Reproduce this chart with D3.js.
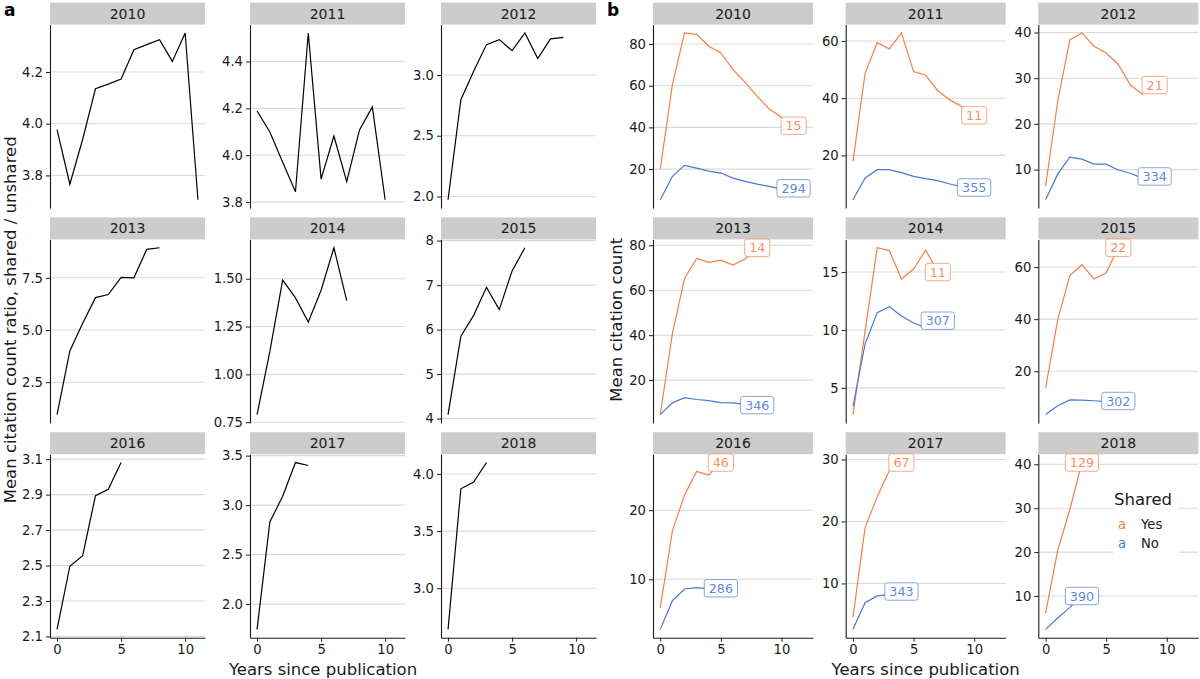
<!DOCTYPE html>
<html>
<head>
<meta charset="utf-8">
<script src="https://cdn.jsdelivr.net/npm/d3@7/dist/d3.min.js"></script>
<style>
body { margin: 0; background: #fff; }
text { font-family: "DejaVu Sans", sans-serif; }
</style>
</head>
<body>
<script>

// publication years, one facet each
var years = [2010, 2011, 2012, 2013, 2014, 2015, 2016, 2017, 2018]

// panel a: mean citation ratio shared / unshared, by years since publication (0, 1, 2 ...)
var ratioSeries = [
  [3.977, 3.766, 3.94, 4.135, 4.153, 4.173, 4.286, 4.306, 4.325, 4.241, 4.351, 3.706],
  [4.189, 4.099, 3.97, 3.844, 4.522, 3.898, 4.082, 3.887, 4.108, 4.206, 3.81],
  [1.973, 2.797, 3.03, 3.25, 3.291, 3.2, 3.346, 3.135, 3.297, 3.31],
  [0.95, 4.0, 5.32, 6.55, 6.70, 7.52, 7.5, 8.86, 8.94],
  [0.79, 1.12, 1.493, 1.40, 1.274, 1.44, 1.662, 1.385],
  [4.09, 5.85, 6.32, 6.95, 6.45, 7.32, 7.84],
  [2.14, 2.496, 2.556, 2.894, 2.93, 3.081],
  [1.745, 2.83, 3.09, 3.43, 3.40],
  [2.64, 3.87, 3.93, 4.1]
]

// panel b: mean citation count, shared = Yes
var yesSeries = [
  [20.0, 60.5, 85.3, 84.6, 78.9, 75.7, 67.7, 61.6, 54.9, 48.8, 44.9, 40.8],
  [17.9, 48.7, 59.4, 57.2, 62.8, 49.3, 48.0, 42.6, 39.4, 37.0, 34.0],
  [6.4, 24.9, 38.4, 39.9, 37.0, 35.5, 33.0, 28.5, 26.5, 28.5],
  [4.7, 40.7, 65.2, 74.1, 72.4, 73.4, 71.2, 74.0, 78.9],
  [2.7, 9.9, 17.1, 16.85, 14.4, 15.26, 16.9, 15.0],
  [13.5, 39.7, 56.7, 60.9, 55.4, 57.8, 67.4],
  [5.9, 17.0, 22.2, 25.6, 25.1, 26.9],
  [4.6, 19.0, 24.0, 28.2, 29.5],
  [6.1, 20.4, 29.7, 40.4]
]

// panel b: mean citation count, shared = No
var noSeries = [
  [5.3, 16.5, 21.8, 20.5, 19.0, 18.1, 15.7, 14.1, 12.8, 11.7, 10.4, 10.8],
  [4.5, 12.1, 15.0, 15.0, 14.0, 12.7, 11.9, 11.2, 10.0, 9.0, 8.8],
  [3.4, 9.0, 12.7, 12.3, 11.2, 11.2, 9.9, 9.2, 8.1, 8.5],
  [4.7, 9.9, 12.2, 11.4, 10.9, 10.0, 9.9, 9.2, 8.9],
  [3.4, 8.8, 11.5, 12.0, 11.2, 10.6, 10.2, 10.8],
  [3.4, 6.8, 9.0, 8.9, 8.7, 8.4, 8.6],
  [2.75, 6.9, 8.6, 8.8, 8.6, 8.7],
  [2.6, 6.9, 8.0, 8.2, 8.7],
  [2.4, 5.0, 7.4, 10.0]
]

// number of papers, shown in the end labels
var yesN = [15, 11, 21, 14, 11, 22, 46, 67, 129]
var noN  = [294, 355, 334, 346, 307, 302, 286, 343, 390]

var ratioTicks = [
  [3.8, 4.0, 4.2], [3.8, 4.0, 4.2, 4.4], [2.0, 2.5, 3.0],
  [2.5, 5.0, 7.5], [0.75, 1.00, 1.25, 1.50], [4, 5, 6, 7, 8],
  [2.1, 2.3, 2.5, 2.7, 2.9, 3.1], [2.0, 2.5, 3.0, 3.5], [3.0, 3.5, 4.0]
]
var countTicks = [
  [20, 40, 60, 80], [20, 40, 60], [10, 20, 30, 40],
  [20, 40, 60, 80], [5, 10, 15], [20, 40, 60],
  [10, 20], [10, 20, 30], [10, 20, 30, 40]
]
var xTicks = [0, 5, 10]

var groups = ["Yes", "No"]
var color = d3.scaleOrdinal().domain(groups).range(["#f37e48", "#4878d6"])

// layout
var plotTop = [24.6, 239.4, 454.2], plotH = 183.5, stripH = 22
var aLeft = [50, 250, 441], aW = 155
var bLeft = [653, 845.7, 1038.3], bW = 160
var ink = "#1a1a1a"

var svg = d3.select("body").append("svg").attr("width", 1200).attr("height", 679)

function decimals(ticks) {
  return d3.max(ticks, function(t) { return (String(t).split(".")[1] || "").length })
}

function expand(vals) {
  var lo = d3.min(vals), hi = d3.max(vals), r = hi - lo
  return [lo - 0.05 * r, hi + 0.05 * r]
}

function panel(i, left, w, xmax, allVals, ticks) {
  var row = Math.floor(i / 3)
  var g = svg.append("g").attr("transform", "translate(" + left + "," + plotTop[row] + ")")

  g.append("rect").attr("x", 0).attr("y", -stripH).attr("width", w).attr("height", stripH)
    .attr("fill", "#cccccc")
  g.append("text").attr("x", w / 2).attr("y", -stripH / 2).attr("dy", "0.36em")
    .attr("text-anchor", "middle").attr("font-size", 14).attr("fill", ink).text(years[i])

  var x = d3.scaleLinear().domain([-0.05 * xmax, xmax * 1.05]).range([0, w])
  var y = d3.scaleLinear().domain(expand(allVals)).range([plotH, 0])

  g.selectAll(".grid").data(ticks).enter().append("line")
    .attr("x1", 0).attr("x2", w)
    .attr("y1", function(d) { return y(d) }).attr("y2", function(d) { return y(d) })
    .attr("stroke", "#d9d9d9").attr("stroke-width", 1.1)

  var dec = decimals(ticks)
  var ya = g.append("g").call(d3.axisLeft(y).tickValues(ticks).tickSize(4).tickSizeOuter(0).tickPadding(3)
    .tickFormat(d3.format("." + dec + "f")))
  ya.selectAll("text").attr("font-size", 13.2).attr("fill", ink).attr("font-family", "DejaVu Sans")
  ya.selectAll("line").attr("stroke", ink)
  ya.select(".domain").attr("stroke", ink).attr("stroke-width", 1.1)

  if (row == 2) {
    var xa = g.append("g").attr("transform", "translate(0," + plotH + ")")
      .call(d3.axisBottom(x).tickValues(xTicks).tickSize(4).tickSizeOuter(0).tickPadding(3))
    xa.selectAll("text").attr("font-size", 13.2).attr("fill", ink).attr("font-family", "DejaVu Sans")
    xa.selectAll("line").attr("stroke", ink)
    xa.select(".domain").attr("stroke", ink).attr("stroke-width", 1.1)
  }
  return {g: g, x: x, y: y}
}

var line = function(p) {
  return d3.line().x(function(d, k) { return p.x(k) }).y(function(d) { return p.y(d) })
}

// panel a
years.forEach(function(yr, i) {
  var p = panel(i, aLeft[i % 3], aW, 11, ratioSeries[i], ratioTicks[i])
  p.g.append("path").datum(ratioSeries[i]).attr("d", line(p))
    .attr("fill", "none").attr("stroke", "#000").attr("stroke-width", 1.2)
})

// panel b
years.forEach(function(yr, i) {
  var p = panel(i, bLeft[i % 3], bW, 12, yesSeries[i].concat(noSeries[i]), countTicks[i])
  var series = [
    {key: "Yes", vals: yesSeries[i], n: yesN[i]},
    {key: "No", vals: noSeries[i], n: noN[i]}
  ]
  series.forEach(function(s) {
    p.g.append("path").datum(s.vals).attr("d", line(p))
      .attr("fill", "none").attr("stroke", color(s.key)).attr("stroke-width", 1.2)
  })
  series.forEach(function(s) {
    var k = s.vals.length - 1
    var lg = p.g.append("g").attr("transform", "translate(" + p.x(k) + "," + p.y(s.vals[k]) + ")")
    var box = lg.append("rect")
    var t = lg.append("text").attr("text-anchor", "middle").attr("dy", "0.36em")
      .attr("font-size", 12.7).attr("fill", color(s.key)).attr("fill-opacity", 0.9).text(s.n)
    var tw = t.node().getComputedTextLength()
    box.attr("x", -tw / 2 - 4.5).attr("y", -8.7).attr("width", tw + 9).attr("height", 17.4)
      .attr("rx", 2.5).attr("fill", "#fff").attr("stroke", color(s.key)).attr("stroke-opacity", 0.75)
      .attr("stroke-width", 0.9)
  })
})

// legend inside the 2018 panel
var leg = svg.append("g").attr("transform", "translate(1113,490)")
leg.append("rect").attr("x", 0).attr("y", 0).attr("width", 66).attr("height", 68).attr("fill", "#fff")
leg.append("text").attr("x", 1).attr("y", 9).attr("dy", "0.36em").attr("font-size", 16.5)
  .attr("fill", ink).text("Shared")
groups.forEach(function(gname, k) {
  leg.append("text").attr("x", 9).attr("y", 34 + k * 19).attr("dy", "0.36em")
    .attr("text-anchor", "middle").attr("font-size", 13.2).attr("fill", color(gname)).text("a")
  leg.append("text").attr("x", 28).attr("y", 34 + k * 19).attr("dy", "0.36em")
    .attr("font-size", 13.2).attr("fill", ink).text(gname)
})

// titles
svg.append("text").attr("x", 4).attr("y", 16).attr("font-size", 17).attr("font-weight", "bold").text("a")
svg.append("text").attr("x", 607).attr("y", 16).attr("font-size", 17).attr("font-weight", "bold").text("b")

svg.append("text").attr("transform", "translate(16," + (plotTop[0] - stripH + 637) / 2 + ") rotate(-90)")
  .attr("text-anchor", "middle").attr("font-size", 16.5).attr("fill", ink)
  .text("Mean citation count ratio, shared / unshared")
svg.append("text").attr("transform", "translate(622," + (plotTop[0] - stripH + 637) / 2 + ") rotate(-90)")
  .attr("text-anchor", "middle").attr("font-size", 16.5).attr("fill", ink)
  .text("Mean citation count")

svg.append("text").attr("x", (aLeft[0] + aLeft[2] + aW) / 2).attr("y", 675)
  .attr("text-anchor", "middle").attr("font-size", 16.5).attr("fill", ink).text("Years since publication")
svg.append("text").attr("x", (bLeft[0] + bLeft[2] + bW) / 2).attr("y", 675)
  .attr("text-anchor", "middle").attr("font-size", 16.5).attr("fill", ink).text("Years since publication")

</script>
</body>
</html>
